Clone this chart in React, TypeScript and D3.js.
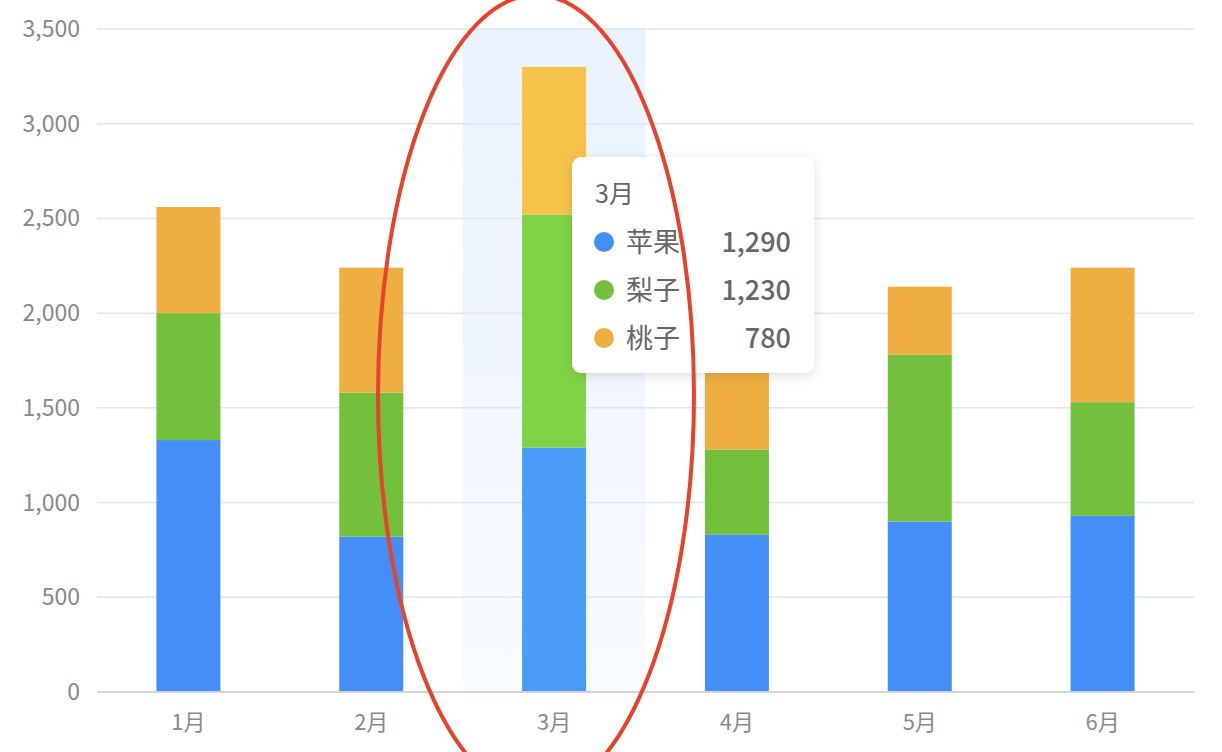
import {format, scaleBand, scaleLinear, stack} from "d3";

const MONTHS = ["1月", "2月", "3月", "4月", "5月", "6月"];
const SERIES = ["苹果", "梨子", "桃子"];
const APPLE = [1330, 820, 1290, 830, 900, 930];
const PEAR = [670, 760, 1230, 450, 880, 600];
const PEACH = [560, 660, 780, 620, 360, 710];
const Y_TICKS = [0, 500, 1000, 1500, 2000, 2500, 3000, 3500];
const ACTIVE_MONTH = "3月";

const COLORS = ["#448ef7", "#72c03c", "#efae42"];
const ACTIVE_COLORS = ["#4b9cf8", "#80d345", "#f5c24a"];

const WIDTH = 1222;
const HEIGHT = 752;
const FONT = "'PingFang SC', 'Noto Sans CJK SC', 'Noto Sans', sans-serif";

type Row = {month: string; [key: string]: number | string};

export default function App() {
  const margins = {top: 29, right: 28, bottom: 60, left: 97};
  const innerWidth = WIDTH - margins.left - margins.right;
  const innerHeight = HEIGHT - margins.top - margins.bottom;

  const rows: Row[] = MONTHS.map((month, i) => ({
    month,
    [SERIES[0]]: APPLE[i],
    [SERIES[1]]: PEAR[i],
    [SERIES[2]]: PEACH[i]
  }));
  const layers = stack<Row>().keys(SERIES)(rows);

  const x = scaleBand<string>().domain(MONTHS).range([0, innerWidth]);
  const y = scaleLinear().domain([0, 3500]).range([innerHeight, 0]);
  const barWidth = x.bandwidth() * 0.35;
  const fmt = format(",");

  const activeIndex = MONTHS.indexOf(ACTIVE_MONTH);
  const activeValues = [APPLE[activeIndex], PEAR[activeIndex], PEACH[activeIndex]];

  // tooltip box, placed beside the hovered column
  const tip = {x: 572, y: 157, w: 242, h: 216};

  return (
    <div style={{position: "fixed", left: 0, top: 0, width: WIDTH, height: HEIGHT, background: "#fff"}}>
      <svg width={WIDTH} height={HEIGHT} style={{display: "block", fontFamily: FONT}}>
        <defs>
          <linearGradient id="band" x1="0" y1="0" x2="0" y2="1">
            <stop offset="0" stopColor="#e9f2fe" />
            <stop offset="1" stopColor="#f8fbff" />
          </linearGradient>
          <filter id="shadow" x="-20%" y="-20%" width="140%" height="140%">
            <feDropShadow dx="0" dy="3" stdDeviation="6" floodColor="#000" floodOpacity="0.12" />
          </filter>
        </defs>
        <g transform={`translate(${margins.left},${margins.top})`}>
          <rect x={x(ACTIVE_MONTH)} y={0} width={x.bandwidth()} height={innerHeight} fill="url(#band)" />

          {Y_TICKS.map((tick) => (
            <g key={tick} transform={`translate(0,${y(tick)})`}>
              {tick > 0 && <line x1={0} x2={innerWidth} stroke="#e1e5ee" strokeWidth={1.5} />}
              <text x={-17} y={8} textAnchor="end" fontSize={23} fill="#86888f">
                {fmt(tick)}
              </text>
            </g>
          ))}

          {layers.map((layer, li) =>
            layer.map((d, i) => {
              const month = MONTHS[i];
              const active = month === ACTIVE_MONTH;
              return (
                <rect
                  key={`${layer.key}-${month}`}
                  x={(x(month) ?? 0) + (x.bandwidth() - barWidth) / 2}
                  y={y(d[1])}
                  width={barWidth}
                  height={y(d[0]) - y(d[1])}
                  fill={active ? ACTIVE_COLORS[li] : COLORS[li]}
                />
              );
            })
          )}

          <line x1={0} x2={innerWidth} y1={innerHeight} y2={innerHeight} stroke="#d2d3da" strokeWidth={2} />

          {MONTHS.map((month) => (
            <text
              key={month}
              x={(x(month) ?? 0) + x.bandwidth() / 2}
              y={innerHeight + 38}
              textAnchor="middle"
              fontSize={22}
              fill="#86888f"
            >
              {month}
            </text>
          ))}
        </g>

        <g transform={`translate(${tip.x},${tip.y})`}>
          <rect width={tip.w} height={tip.h} rx={9} fill="#fff" filter="url(#shadow)" />
          <text x={23} y={46} fontSize={25} fill="#666">
            {ACTIVE_MONTH}
          </text>
          {SERIES.map((name, i) => (
            <g key={name} transform={`translate(0,${85 + i * 48})`}>
              <circle cx={32} cy={0} r={10} fill={COLORS[i]} />
              <text x={54} y={10} fontSize={27} fill="#666">
                {name}
              </text>
              <text x={219} y={10} textAnchor="end" fontSize={27} fontWeight={500} fill="#666">
                {fmt(activeValues[i])}
              </text>
            </g>
          ))}
        </g>

        <ellipse cx={536} cy={395} rx={158} ry={400} fill="none" stroke="#e8432a" strokeWidth={4} />
      </svg>
    </div>
  );
}
